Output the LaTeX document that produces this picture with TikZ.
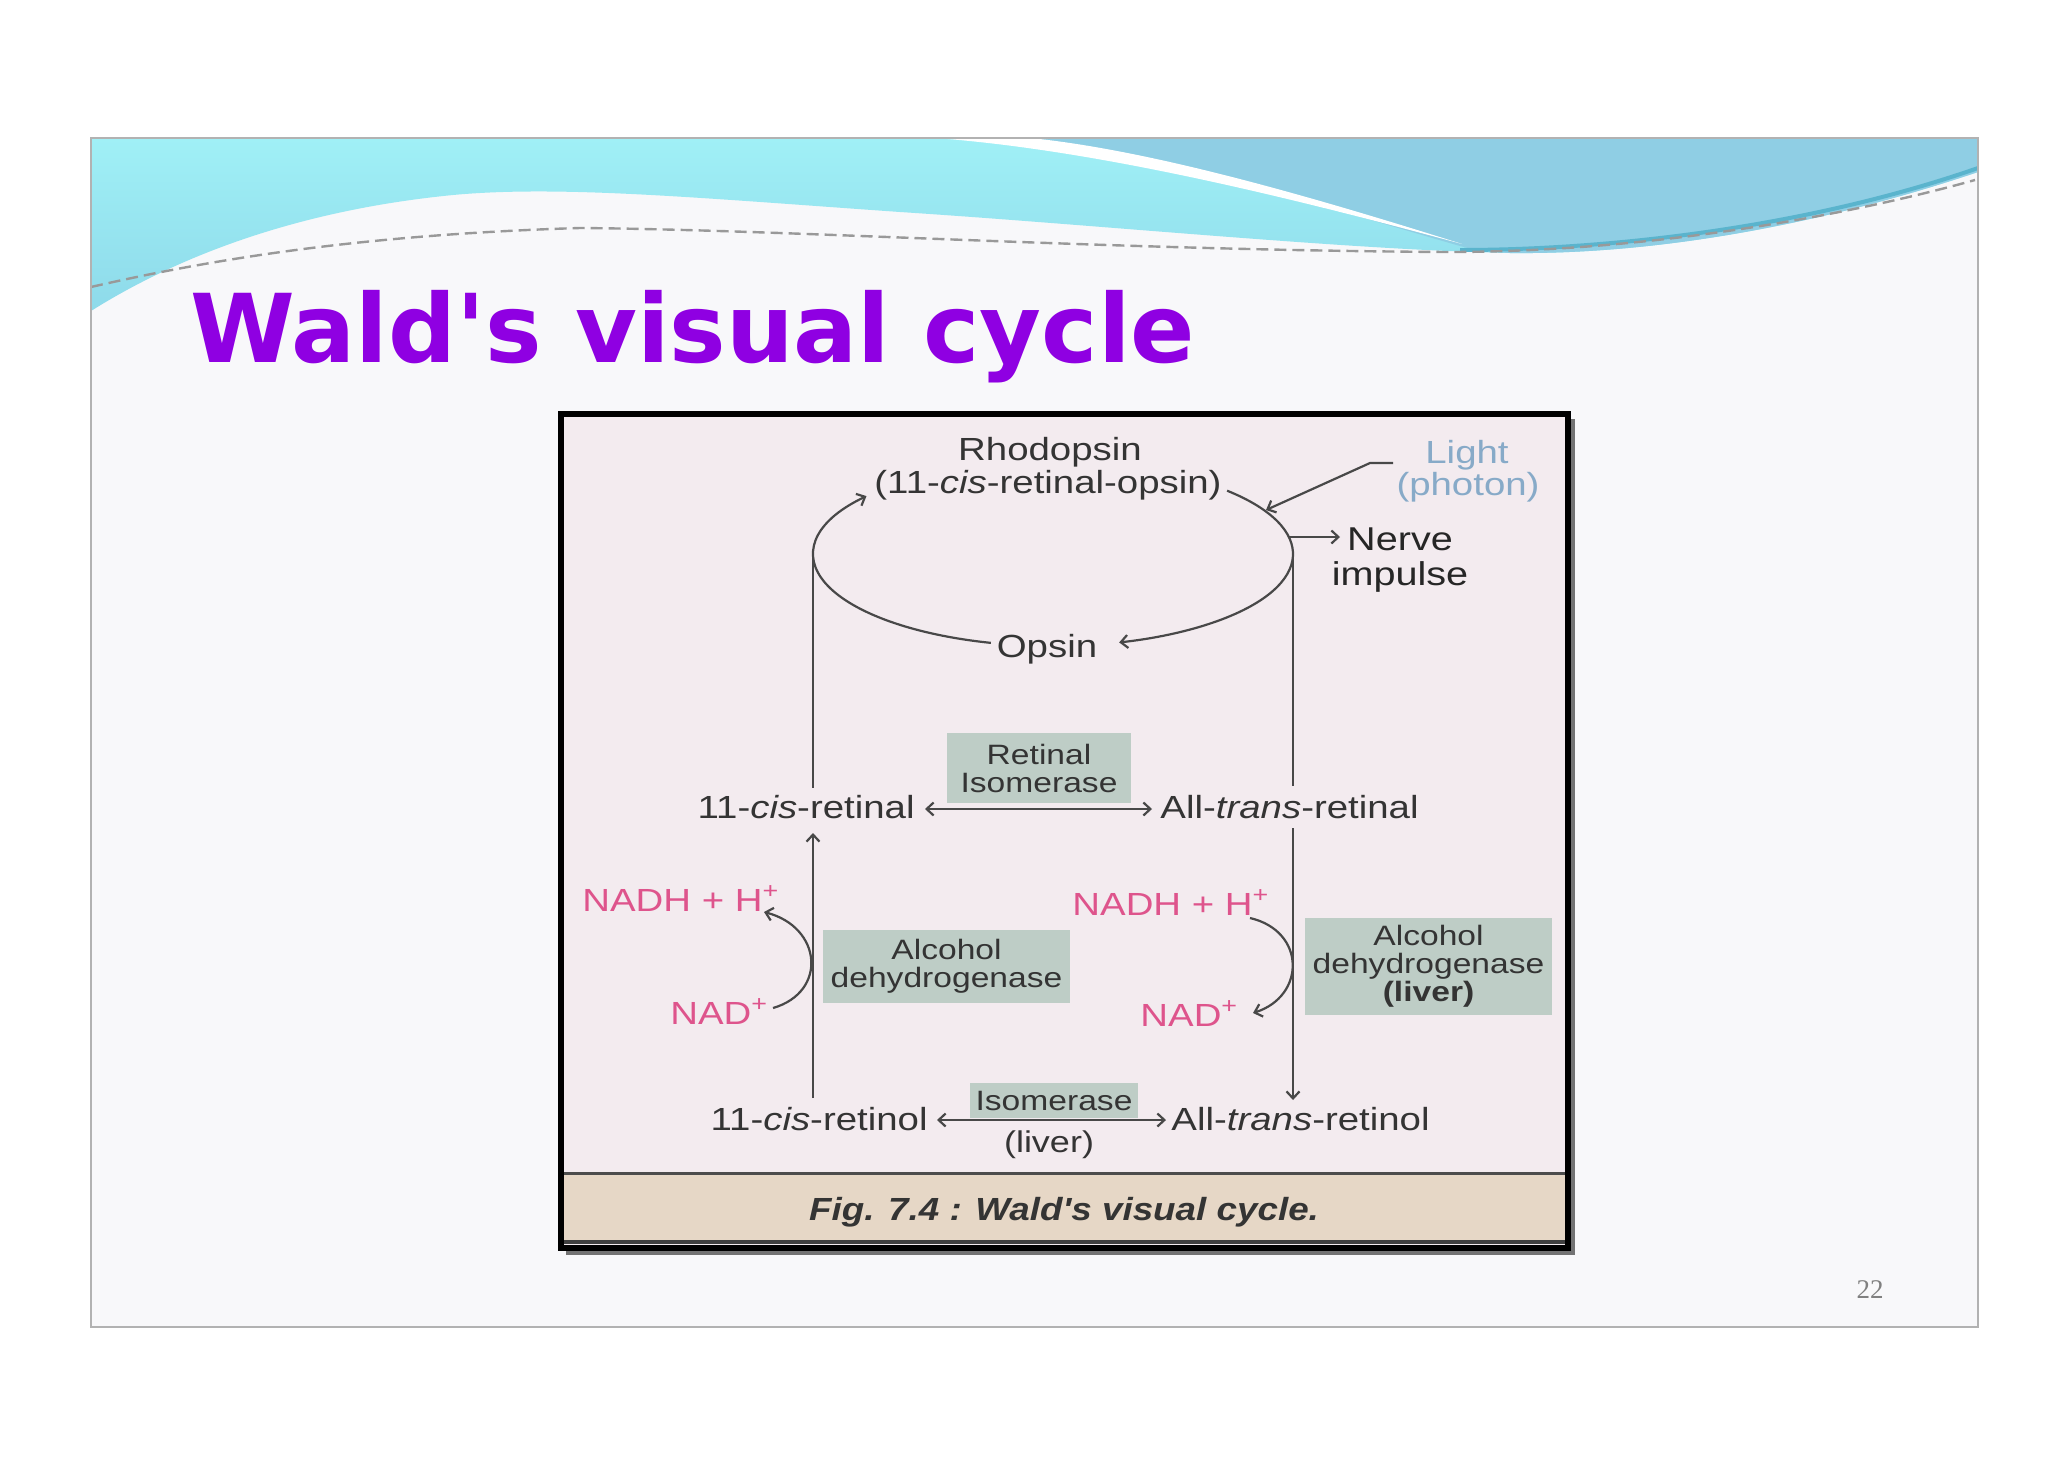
\documentclass[tikz,border=0pt]{standalone}
\usepackage{fontspec}
\usetikzlibrary{arrows.meta,calc}
\newfontfamily\figfont{Liberation Sans}[FakeStretch=1.2]
\newfontfamily\capfont{Liberation Sans}[FakeStretch=1.15]
\newfontfamily\titlefont{DejaVu Sans}
\newfontfamily\numfont{Liberation Serif}
\definecolor{titlepurple}{RGB}{143,0,226}
\definecolor{txtgray}{RGB}{52,52,52}
\definecolor{lngray}{RGB}{72,72,72}
\definecolor{pinktxt}{RGB}{222,84,140}
\definecolor{lightblue}{RGB}{135,170,200}
\definecolor{enzfill}{RGB}{190,205,198}
\definecolor{figbg}{RGB}{243,235,239}
\definecolor{capband}{RGB}{230,215,198}
\definecolor{aquatop}{RGB}{160,240,246}
\definecolor{aquabot}{RGB}{142,218,234}
\definecolor{steel}{RGB}{143,206,228}
\definecolor{slidebg}{RGB}{248,248,250}
\definecolor{darkcyan}{RGB}{90,180,205}
\begin{document}
\begin{tikzpicture}[x=0.5pt,y=-0.5pt,
  ft/.style={font=\figfont\fontsize{16}{14}\selectfont, text=txtgray, inner sep=0pt},
  ftbox/.style={font=\figfont\fontsize{14}{14}\selectfont, text=txtgray, fill=enzfill, inner sep=0pt, align=center},
  pk/.style={ft, text=pinktxt},
  ln/.style={draw=lngray, line width=1.1pt},
  arr/.style={-{Straight Barb[length=3.5pt,width=6.5pt]}},
  darr/.style={{Straight Barb[length=3.5pt,width=6.5pt]}-{Straight Barb[length=3.5pt,width=6.5pt]}},
]
\useasboundingbox (0,0) rectangle (2048,1462);
\fill[white] (0,0) rectangle (2048,1462);
% slide
\fill[slidebg] (91,138) rectangle (1978,1327);
% header: aqua region
\shade[top color=aquatop, bottom color=aquabot] (91,138) -- (1978,138) -- (1978,172)
  .. controls (1880,205) and (1700,255) .. (1510,253)
  .. controls (1350,250) and (1100,225) .. (900,212)
  .. controls (700,198) and (560,185) .. (453,195)
  .. controls (300,210) and (180,255) .. (91,311) -- cycle;
% right steel-blue region
\fill[steel] (1000,138) -- (1978,138) -- (1978,172)
  .. controls (1880,205) and (1700,255) .. (1510,253)
  .. controls (1490,252) and (1475,250) .. (1460,246)
  .. controls (1300,200) and (1150,150) .. (1000,138) -- cycle;
% white streak
\fill[white] (935,138) .. controls (1100,150) and (1300,200) .. (1462,244)
  .. controls (1310,196) and (1150,150) .. (1030,138) -- cycle;
% dark cyan line along right part
\draw[darkcyan, line width=2pt] (1460,250) .. controls (1600,250) and (1800,230) .. (1978,168);
% dashed line
\draw[gray!80, line width=1.2pt, dash pattern=on 6pt off 3pt]
  (91,287) .. controls (200,262) and (350,235) .. (580,228)
  .. controls (800,230) and (1100,250) .. (1448,252)
  .. controls (1650,252) and (1850,215) .. (1975,180);
\draw[darkcyan!70!black, line width=1pt] (91,138) -- (1978,138);
% slide border
\draw[gray!60, line width=1.2pt] (91,138) rectangle (1978,1327);
% title
\node[anchor=base west, font=\titlefont\bfseries\fontsize{47.5}{52}\selectfont, text=titlepurple, inner sep=0pt] (title) at (190,362) {Wald's visual cycle};
% page number
\node[anchor=base, font=\numfont\fontsize{13.5}{15}\selectfont, text=gray, inner sep=0pt] (pnum) at (1870,1298) {22};
% figure box
\fill[black!55] (566,419) rectangle (1575,1255);
\fill[figbg] (561,414) rectangle (1568,1248);
\fill[capband] (561,1173) rectangle (1568,1243);
\draw[black!70, line width=1.5pt] (561,1173) -- (1568,1173);
\draw[black!75, line width=2pt] (561,1242) -- (1568,1242);
\draw[black, line width=3pt] (561,414) rectangle (1568,1248);
% enzyme boxes
\node[ftbox, minimum width=92pt, minimum height=35pt] (riso) at (1039,768) {Retinal\\Isomerase};
\node[ftbox, minimum width=123.5pt, minimum height=36.5pt] (adhL) at (946.5,966.5) {Alcohol\\dehydrogenase};
\node[ftbox, minimum width=123.5pt, minimum height=48.5pt] (adhR) at (1428.5,966.5) {Alcohol\\dehydrogenase\\\textbf{(liver)}};
\node[ftbox, minimum width=84pt, minimum height=17.5pt] (iso) at (1054,1100.5) {Isomerase};
% texts
\node[ft,anchor=base] (rho) at (1050,460) {Rhodopsin};
\node[ft,anchor=base] (rho2) at (1048,493) {(11-\textit{cis}-retinal-opsin)};
\node[ft,anchor=base,text=lightblue] (light) at (1467,463) {Light};
\node[ft,anchor=base,text=lightblue] (photon) at (1468,495) {(photon)};
\node[ft,anchor=base,font=\figfont\fontsize{16.5}{18}\selectfont,text=black!85] (nerve) at (1400,550) {Nerve};
\node[ft,anchor=base,font=\figfont\fontsize{16.5}{18}\selectfont,text=black!85] (imp) at (1400,585) {impulse};
\node[ft,anchor=base] (opsin) at (1047,657) {Opsin};
\node[ft,anchor=base east] (cisral) at (915,818) {11-\textit{cis}-retinal};
\node[ft,anchor=base west] (transral) at (1160,818) {All-\textit{trans}-retinal};
\node[pk,anchor=base west] (nadhL) at (582,911) {NADH + H\textsuperscript{+}};
\node[pk,anchor=base west] (nadL) at (670,1024) {NAD\textsuperscript{+}};
\node[pk,anchor=base west] (nadhR) at (1072,915) {NADH + H\textsuperscript{+}};
\node[pk,anchor=base west] (nadR) at (1140,1026) {NAD\textsuperscript{+}};
\node[ft,anchor=base east] (cisrol) at (928,1130) {11-\textit{cis}-retinol};
\node[ft,anchor=base west] (transrol) at (1171,1130) {All-\textit{trans}-retinol};
\node[ft,anchor=base,font=\figfont\fontsize{15}{16}\selectfont] (liver) at (1049,1152) {(liver)};
\node[anchor=base, font=\capfont\bfseries\itshape\fontsize{16}{18}\selectfont, text=txtgray, inner sep=0pt] (cap) at (1064,1220) {Fig. 7.4 : Wald's visual cycle.};
% cycle coordinates
\coordinate (ec) at (1053,554);
\coordinate (opL) at ($(ec)+(105:240 and 92)$);
\coordinate (rhoR) at ($(ec)+(-43.5:240 and 92)$);
\coordinate (elL) at (813,554);
\coordinate (elR) at (1293,554);
\coordinate (elLend) at (813,788);
\coordinate (elRend) at (1293,786);
\coordinate (cisUp) at (813,833);
\coordinate (cisBot) at (813,1098);
\coordinate (transTop) at (1293,828);
\coordinate (transDown) at (1293,1100);
\coordinate (lightS) at (1393,463);
\coordinate (lightK) at (1370,463);
\coordinate (lightT) at (1266,510);
\coordinate (nerveS) at (1289,537);
\coordinate (nerveT) at (1340,537);
\coordinate (ralL) at (925,809);
\coordinate (ralR) at (1152,809);
\coordinate (rolL) at (937,1120);
\coordinate (rolR) at (1166,1120);
% connectors
\draw[ln,arr] (opL) arc[start angle=105,end angle=219,x radius=240,y radius=92];
\draw[ln,arr] (rhoR) arc[start angle=-43.5,end angle=74,x radius=240,y radius=92];
\draw[ln] (elL) -- (elLend);
\draw[ln] (elR) -- (elRend);
\draw[ln,arr] (cisBot) -- (cisUp);
\draw[ln,arr] (transTop) -- (transDown);
\draw[ln,arr] (lightS) -- (lightK) -- (lightT);
\draw[ln,arr] (nerveS) -- (nerveT);
\draw[ln,darr] (ralL) -- (ralR);
\draw[ln,darr] (rolL) -- (rolR);
\draw[ln,arr] (773,1008) .. controls (828,992) and (822,927) .. (764,912);
\draw[ln,arr] (1250,918) .. controls (1306,931) and (1306,996) .. (1253,1013);
\end{tikzpicture}
\end{document}
